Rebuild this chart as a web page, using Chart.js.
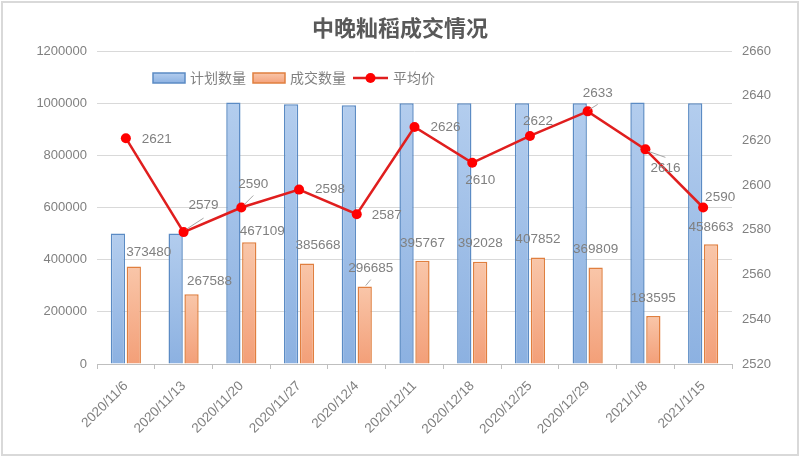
<!DOCTYPE html>
<html><head><meta charset="utf-8">
<script src="https://cdn.jsdelivr.net/npm/chart.js@4.4.1/dist/chart.umd.min.js"></script>
<style>
html,body{margin:0;padding:0;background:#fff;}
#wrap{position:relative;width:800px;height:457px;}
canvas{display:block;}
</style></head><body>
<div id="wrap"><canvas id="c" width="800" height="457"></canvas></div>
<script>
// ---- data ----
const titleText = '中晚籼稻成交情况';
const categories = ['2020/11/6','2020/11/13','2020/11/20','2020/11/27','2020/12/4','2020/12/11','2020/12/18','2020/12/25','2020/12/29','2021/1/8','2021/1/15'];
const seriesNames = ['计划数量','成交数量','平均价'];
const planned = [500000,500000,1003000,996000,992000,1000000,1000000,1000000,1000000,1003000,1000000];
const traded = [373480,267588,467109,385668,296685,395767,392028,407852,369809,183595,458663];
const avgPrice = [2621,2579,2590,2598,2587,2626,2610,2622,2633,2616,2590];
const leftAxis = {min:0, max:1200000, step:200000};
const rightAxis = {min:2520, max:2660, step:20};

// ---- label placement (annotation offsets, not data) ----
const tradedLabelOffsets = [[15,-14],[18,-13],[13,-11],[11,-18],[6,-18],[0,-17],[0,-18],[0,-18],[0,-18],[0,-18],[0,-17]];
const tradedLeaders = {4:[[1,-1],[6,-7]]};
const priceLabelOffsets = [[31,1],[20,-27],[12,-23],[31,0],[30,1],[31,0],[8,17],[8,-15],[10,-18],[20,19],[17,-10]];
const priceLeaders = {1:[[3,-3],[20,-14]],2:[[3,-3],[12,-12]],8:[[2,-2],[10,-7]],9:[[3,2],[20,8]]};

const GRAY = '#808080';
const NUMFONT = '"Liberation Sans", Arial, sans-serif';
const CJKFONT = '"Noto Sans CJK SC", "Noto Sans", sans-serif';

function barGradient(ctx, top, bottom, c1, c2) {
  const g = ctx.createLinearGradient(0, top, 0, bottom);
  g.addColorStop(0, c1); g.addColorStop(1, c2);
  return g;
}
function scriptGrad(c1, c2) {
  return function(context) {
    const chart = context.chart;
    const area = chart.chartArea;
    if (!area || !context.parsed) return c2;
    const ys = chart.scales.y;
    const top = ys.getPixelForValue(context.parsed.y);
    const bottom = ys.getPixelForValue(0);
    if (!isFinite(top) || bottom - top < 1) return c2;
    return barGradient(chart.ctx, top, bottom, c1, c2);
  };
}

const framePlugin = {
  id: 'frame',
  beforeDraw(chart) {
    const ctx = chart.ctx;
    ctx.save();
    ctx.fillStyle = '#ffffff';
    ctx.fillRect(0, 0, chart.width, chart.height);
    ctx.strokeStyle = '#d9d9d9';
    ctx.lineWidth = 2;
    ctx.strokeRect(2, 2, chart.width - 4, chart.height - 4);
    // title
    ctx.fillStyle = '#595959';
    ctx.font = 'bold 22px ' + CJKFONT;
    ctx.textAlign = 'center';
    ctx.textBaseline = 'middle';
    ctx.fillText(titleText, 400, 28);
    ctx.restore();
  }
};

const labelPlugin = {
  id: 'dlabels',
  afterDatasetsDraw(chart) {
    const ctx = chart.ctx;
    ctx.save();
    ctx.font = '13.5px ' + NUMFONT;
    ctx.fillStyle = GRAY;
    ctx.textAlign = 'center';
    ctx.textBaseline = 'middle';
    ctx.strokeStyle = '#a6a6a6';
    ctx.lineWidth = 1;
    const barMeta = chart.getDatasetMeta(1);
    barMeta.data.forEach((el, i) => {
      const o = tradedLabelOffsets[i] || [0,-18];
      if (tradedLeaders[i]) {
        const l = tradedLeaders[i];
        ctx.beginPath(); ctx.moveTo(el.x + l[0][0], el.y + l[0][1]); ctx.lineTo(el.x + l[1][0], el.y + l[1][1]); ctx.stroke();
      }
      ctx.fillText(String(traded[i]), el.x + o[0], el.y + o[1]);
    });
    const lineMeta = chart.getDatasetMeta(2);
    lineMeta.data.forEach((el, i) => {
      const o = priceLabelOffsets[i] || [20,0];
      if (priceLeaders[i]) {
        const l = priceLeaders[i];
        ctx.beginPath(); ctx.moveTo(el.x + l[0][0], el.y + l[0][1]); ctx.lineTo(el.x + l[1][0], el.y + l[1][1]); ctx.stroke();
      }
      ctx.fillText(String(avgPrice[i]), el.x + o[0], el.y + o[1]);
    });
    ctx.restore();
  },
  afterDraw(chart) {
    // legend drawn inside plot area
    const ctx = chart.ctx;
    ctx.save();
    ctx.font = '14px ' + CJKFONT;
    ctx.textBaseline = 'middle';
    ctx.textAlign = 'left';
    let x = 153; const cy = 78;
    const boxes = [
      {c1:'#b3cdee', c2:'#8db2e2', b:'#5b8bc4'},
      {c1:'#f9c6a9', c2:'#f4a27c', b:'#e07f3f'}
    ];
    for (let k = 0; k < 2; k++) {
      const bx = boxes[k];
      ctx.fillStyle = barGradient(ctx, cy - 5, cy + 5, bx.c1, bx.c2);
      ctx.fillRect(x, cy - 5, 32, 10);
      ctx.strokeStyle = bx.b; ctx.lineWidth = 1.5;
      ctx.strokeRect(x, cy - 5, 32, 10);
      x += 37;
      ctx.fillStyle = GRAY;
      ctx.fillText(seriesNames[k], x, cy);
      x += ctx.measureText(seriesNames[k]).width + 7;
    }
    ctx.strokeStyle = '#e01e1e'; ctx.lineWidth = 2.5;
    ctx.beginPath(); ctx.moveTo(x, cy); ctx.lineTo(x + 35, cy); ctx.stroke();
    ctx.fillStyle = '#ff0000';
    ctx.beginPath(); ctx.arc(x + 17.5, cy, 5, 0, Math.PI * 2); ctx.fill();
    x += 40;
    ctx.fillStyle = GRAY;
    ctx.fillText(seriesNames[2], x, cy);
    ctx.restore();
  }
};

const plainNum = v => String(v);

new Chart(document.getElementById('c'), {
  type: 'bar',
  data: {
    labels: categories,
    datasets: [
      {label: seriesNames[0], data: planned, yAxisID: 'y', order: 1,
       backgroundColor: scriptGrad('#b3cdee', '#8cb1e1'), borderColor: '#5b8bc4', borderWidth: 1.5,
       categoryPercentage: 0.55, barPercentage: 0.9},
      {label: seriesNames[1], data: traded, yAxisID: 'y', order: 1,
       backgroundColor: scriptGrad('#f9c6a9', '#f39f78'), borderColor: '#e07f3f', borderWidth: 1.5,
       categoryPercentage: 0.55, barPercentage: 0.9},
      {type: 'line', label: seriesNames[2], data: avgPrice, yAxisID: 'y1', order: 0,
       borderColor: '#e01e1e', borderWidth: 2.5, pointRadius: 5, pointHoverRadius: 5,
       pointBackgroundColor: '#ff0000', pointBorderColor: '#ff0000', pointBorderWidth: 0,
       tension: 0, fill: false}
    ]
  },
  options: {
    responsive: false, animation: false, devicePixelRatio: 1,
    layout: {padding: {top: 51, left: 0, right: 0, bottom: 0}},
    plugins: {legend: {display: false}, tooltip: {enabled: false}, title: {display: false}},
    scales: {
      x: {
        offset: true,
        grid: {display: true, drawOnChartArea: false, offset: true, tickLength: 5, color: '#bfbfbf'},
        border: {display: true, color: '#bfbfbf'},
        ticks: {autoSkip: false, minRotation: 45, maxRotation: 45, color: GRAY, padding: 9,
                font: {family: NUMFONT, size: 13.5}},
        afterFit(s) { s.height = 93; }
      },
      y: {
        position: 'left', min: leftAxis.min, max: leftAxis.max,
        grid: {color: '#d9d9d9', drawTicks: false},
        border: {display: false},
        ticks: {stepSize: leftAxis.step, color: GRAY, padding: 10, callback: plainNum,
                font: {family: NUMFONT, size: 13}},
        afterFit(s) { s.width = 97; }
      },
      y1: {
        position: 'right', min: rightAxis.min, max: rightAxis.max,
        grid: {drawOnChartArea: false, drawTicks: false},
        border: {display: false},
        ticks: {stepSize: rightAxis.step, color: GRAY, padding: 10, callback: plainNum,
                font: {family: NUMFONT, size: 13}},
        afterFit(s) { s.width = 68; }
      }
    }
  },
  plugins: [framePlugin, labelPlugin]
});
</script>
</body></html>
